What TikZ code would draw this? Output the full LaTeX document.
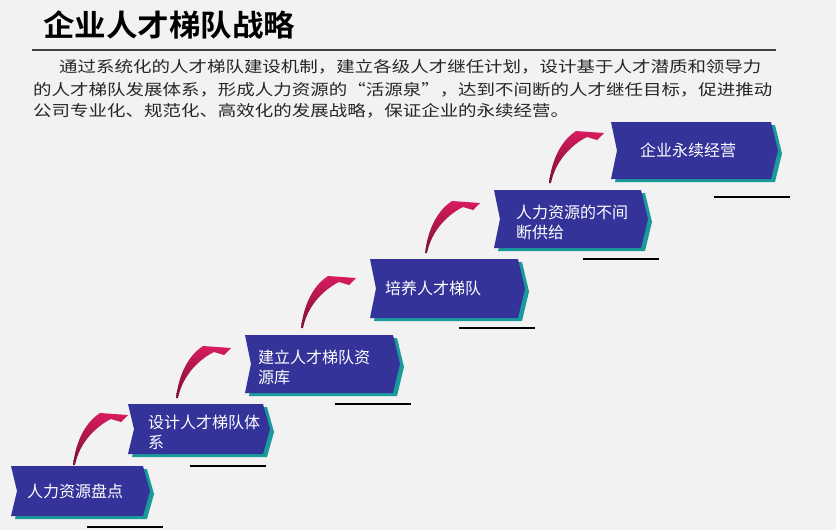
\documentclass[tikz,border=0pt]{standalone}
\usepackage{fontspec}
\newfontfamily\cjk{Noto Sans CJK SC}
\newfontfamily\cjkwide[FakeStretch=1.2]{Noto Sans CJK SC}
\newfontfamily\cjkbold[FakeStretch=1.05]{Noto Sans CJK SC Bold}
\definecolor{bgray}{HTML}{F2F2F2}
\definecolor{boxblue}{HTML}{333399}
\definecolor{shadowteal}{HTML}{1A9A9A}
\definecolor{arrowpink}{HTML}{D81B60}
\definecolor{arrowdark}{HTML}{7A1030}
\definecolor{rulegray}{HTML}{404040}
\newcommand{\DrawChev}[4]{%
  \fill[shadowteal] ({#1+4},{#2+3}) -- ({#3-7+4},{#2+3}) -- ({#3+4},{(#2+#4)/2+3}) -- ({#3-7+4},{#4+3}) -- ({#1+4},{#4+3}) -- ({#1+6+4},{(#2+#4)/2+3}) -- cycle;
  \fill[boxblue] (#1,#2) -- ({#3-7},#2) -- (#3,{(#2+#4)/2}) -- ({#3-7},#4) -- (#1,#4) -- ({#1+6},{(#2+#4)/2}) -- cycle;}
\newcommand{\DrawSwoosh}[1]{%
  \shade[top color=arrowpink, bottom color=arrowdark, shift={(#1)}]
    (0,0) .. controls (3,-24) and (12,-42) .. (27,-52) -- (55,-50) -- (48,-43) -- (38,-46)
    .. controls (20,-37) and (6,-20) .. (2,0) -- cycle;}
\begin{document}
\begin{tikzpicture}[x=1pt,y=-1pt,
  boxtext/.style={font=\cjk\fontsize{16}{20}\selectfont, text=white, anchor=west, align=left, inner sep=0pt},
  paratext/.style={font=\cjkwide\fontsize{15.4}{18}\selectfont, text=black!85, anchor=west, inner sep=0pt},
  uline/.style={line width=2pt, black}]
\fill[bgray] (0,0) rectangle (836,530);
\useasboundingbox (0,0) rectangle (836,530);
% title
\node[font=\cjkbold\fontsize{30}{34}\selectfont, anchor=west, inner sep=0pt] (title) at (43,25) {企业人才梯队战略};
\coordinate (rl) at (32,50);
\coordinate (rr) at (776,50);
\draw[rulegray, line width=1.5pt] (rl) -- (rr);
% paragraph
\node[paratext] (p1) at (59,67) {通过系统化的人才梯队建设机制，建立各级人才继任计划，设计基于人才潜质和领导力};
\node[paratext] (p2) at (33,90) {的人才梯队发展体系，形成人力资源的“活源泉”，达到不间断的人才继任目标，促进推动};
\node[paratext] (p3) at (33,111) {公司专业化、规范化、高效化的发展战略，保证企业的永续经营。};
% boxes
\DrawChev{11}{466}{150}{516}
\DrawChev{128}{404}{270}{454}
\DrawChev{245}{335}{400}{393}
\DrawChev{370}{259}{525}{318}
\DrawChev{494}{190}{648}{248}
\DrawChev{611}{122}{778}{179}
\node[boxtext] (t1) at (27,491) {人力资源盘点};
\node[boxtext] (t2) at (148,432) {设计人才梯队体\\系};
\node[boxtext] (t3) at (258,367) {建立人才梯队资\\源库};
\node[boxtext] (t4) at (385,288) {培养人才梯队};
\node[boxtext] (t5) at (516,222) {人力资源的不间\\断供给};
\node[boxtext] (t6) at (640,150) {企业永续经营};
% underlines
\coordinate (u1a) at (87,527); \coordinate (u1b) at (163,527);
\coordinate (u2a) at (190,466); \coordinate (u2b) at (266,466);
\coordinate (u3a) at (335,404); \coordinate (u3b) at (411,404);
\coordinate (u4a) at (459,328); \coordinate (u4b) at (535,328);
\coordinate (u5a) at (583,259); \coordinate (u5b) at (659,259);
\coordinate (u6a) at (714,197); \coordinate (u6b) at (790,197);
\draw[uline] (u1a) -- (u1b);
\draw[uline] (u2a) -- (u2b);
\draw[uline] (u3a) -- (u3b);
\draw[uline] (u4a) -- (u4b);
\draw[uline] (u5a) -- (u5b);
\draw[uline] (u6a) -- (u6b);
% swoosh arrows
\coordinate (a1) at (73,465);
\coordinate (a2) at (176,398);
\coordinate (a3) at (301,328);
\coordinate (a4) at (425,253);
\coordinate (a5) at (549,183);
\DrawSwoosh{a1}
\DrawSwoosh{a2}
\DrawSwoosh{a3}
\DrawSwoosh{a4}
\DrawSwoosh{a5}
\end{tikzpicture}
\end{document}
